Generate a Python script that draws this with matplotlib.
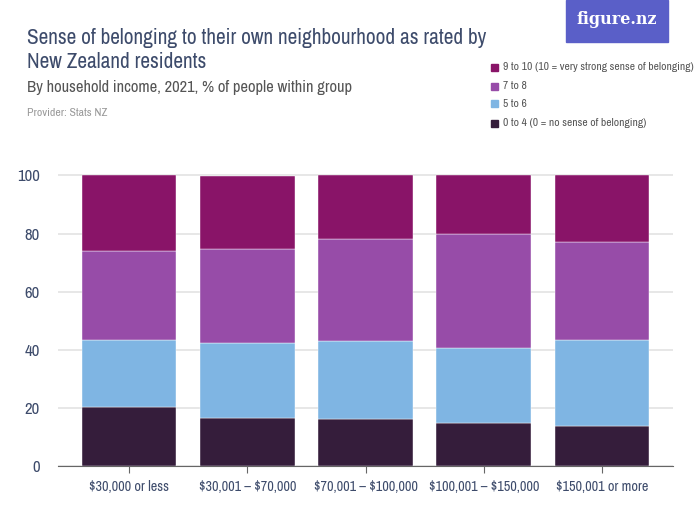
import matplotlib
matplotlib.use("Agg")
import matplotlib.pyplot as plt
import numpy as np
from matplotlib.patches import Rectangle
from matplotlib import font_manager

names = sorted({f.name for f in font_manager.fontManager.ttflist})
narrow = [n for n in names if "Condensed" in n or "Narrow" in n]
NARROW = narrow[0] if narrow else "Liberation Sans"

categories = ["$30,000 or less", "$30,001 – $70,000", "$70,001 – $100,000",
              "$100,001 – $150,000", "$150,001 or more"]
low_0_4 = [20.2, 16.6, 16.2, 14.9, 13.8]
mid_5_6 = [23.0, 25.6, 26.8, 25.8, 29.7]
high_7_8 = [30.9, 32.4, 35.2, 39.2, 33.5]
top_9_10 = [25.9, 25.2, 21.8, 20.1, 23.0]
series_labels = ["0 to 4 (0 = no sense of belonging)", "5 to 6", "7 to 8",
                 "9 to 10 (10 = very strong sense of belonging)"]
colors = ["#351d3b", "#7fb5e3", "#974ca8", "#891468"]
yticks = [0, 20, 40, 60, 80, 100]

TEXT = "#3d4b6b"
plt.rcParams["font.family"] = [NARROW, "DejaVu Sans"]
plt.rcParams["text.parse_math"] = False

fig = plt.figure(figsize=(7, 5.25), dpi=100)
ax = fig.add_axes([58 / 700, 1 - 466 / 525, 615 / 700, 292 / 525])

x = np.arange(len(categories))
bottom = np.zeros(len(categories))
for vals, col in zip([low_0_4, mid_5_6, high_7_8, top_9_10], colors):
    ax.bar(x, vals, bottom=bottom, width=0.8, color=col, edgecolor="white",
           linewidth=0.3, zorder=3)
    bottom += np.array(vals)

ax.set_xlim(-0.6, 4.6)
ax.set_ylim(0, 100.5)
ax.set_yticks(yticks)
ax.set_yticklabels([str(v) for v in yticks], color=TEXT, fontsize=12)
ax.set_xticks(x)
ax.set_xticklabels(categories, color=TEXT, fontsize=10.2)
ax.tick_params(axis="y", length=0, pad=13)
ax.tick_params(axis="x", length=5, color="#666666", pad=5)
ax.grid(axis="y", color="#e3e3e3", lw=1.2, zorder=0)
for s in ["top", "right", "left"]:
    ax.spines[s].set_visible(False)
ax.spines["bottom"].set_color("#666666")

fig.text(27 / 700, 1 - 38 / 525, "Sense of belonging to their own neighbourhood as rated by",
         fontsize=15.3, color=TEXT, va="center", weight="semibold")
fig.text(27 / 700, 1 - 62 / 525, "New Zealand residents",
         fontsize=15.3, color=TEXT, va="center", weight="semibold")
fig.text(27 / 700, 1 - 88 / 525, "By household income, 2021, % of people within group",
         fontsize=11.9, color="#555555", va="center")
fig.text(27 / 700, 1 - 113 / 525, "Provider: Stats NZ",
         fontsize=8.5, color="#999999", va="center")

# logo
fig.patches.append(Rectangle((566 / 700, 1 - 42 / 525), 102 / 700, 42 / 525,
                             transform=fig.transFigure, color="#5a5fc8"))
fig.text(617 / 700, 1 - 20 / 525, "figure.nz", fontsize=11.5, color="white",
         ha="center", va="center", family="DejaVu Serif", weight="bold")

# legend
leg_y = [67, 86, 104, 123]
for yy, lab, col in zip(leg_y, series_labels[::-1], colors[::-1]):
    fig.patches.append(Rectangle((491 / 700, 1 - (yy + 3.5) / 525), 7 / 700, 7 / 525,
                                 transform=fig.transFigure, color=col))
    fig.text(503 / 700, 1 - yy / 525, lab, fontsize=8.3, color="#555555", va="center")

fig.savefig("out.png", dpi=100)
